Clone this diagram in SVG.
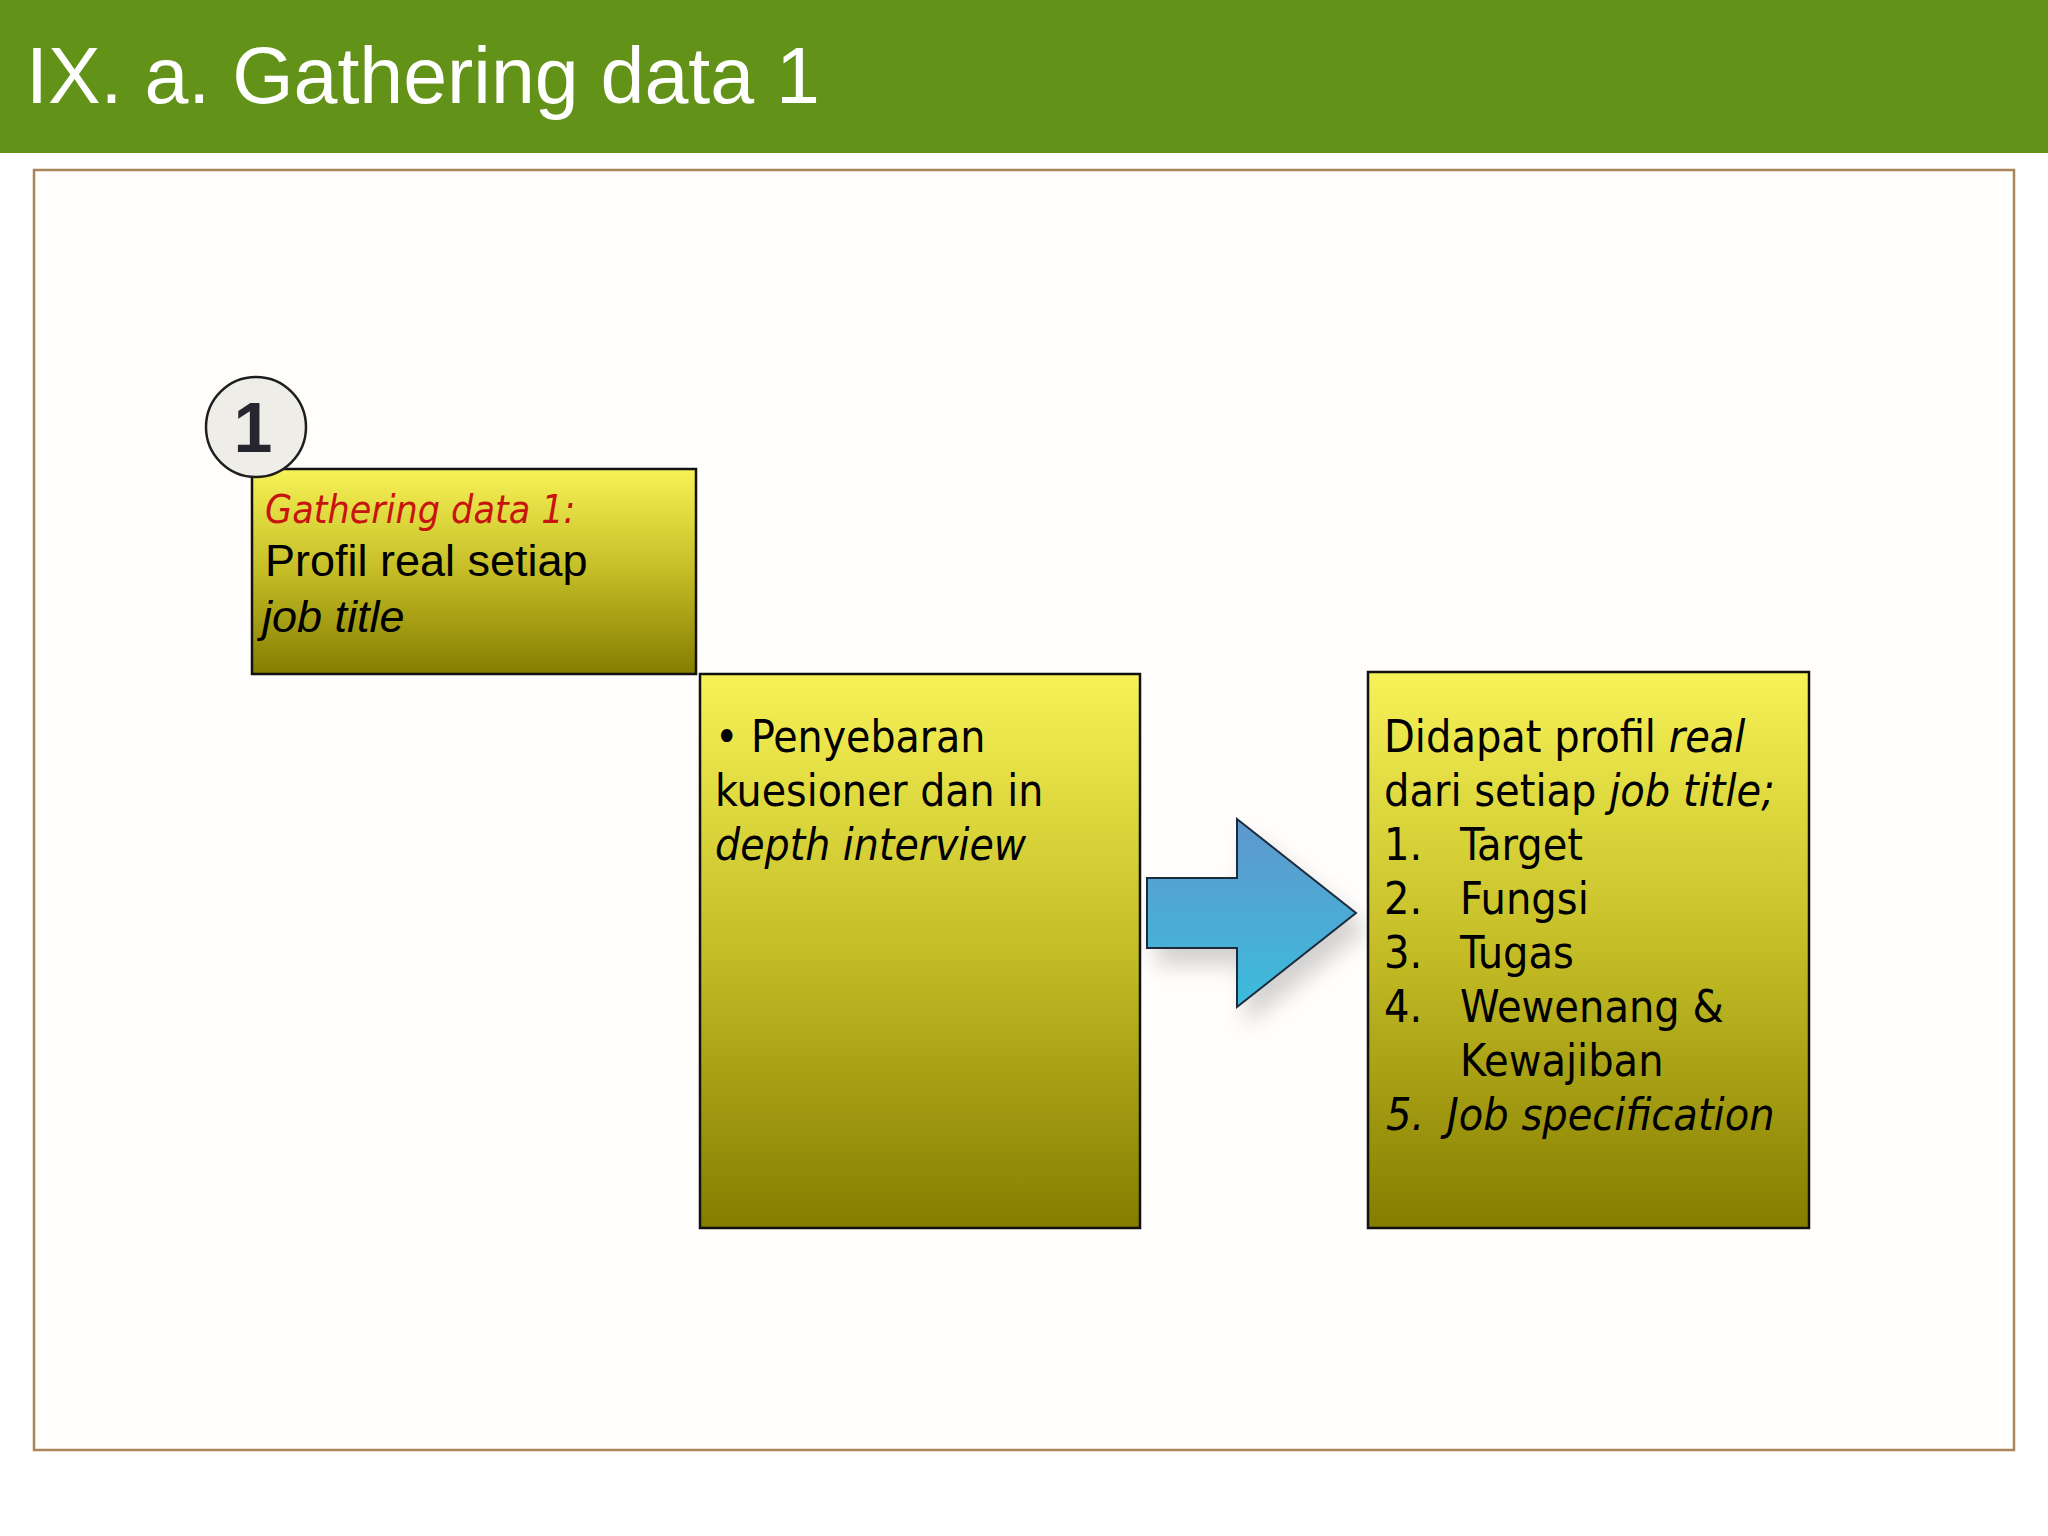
<svg xmlns="http://www.w3.org/2000/svg" width="2048" height="1536" viewBox="0 0 2048 1536">
<defs>
<linearGradient id="yel" x1="0" y1="0" x2="0" y2="1">
<stop offset="0" stop-color="#f7f257"/>
<stop offset="0.5" stop-color="#c4bd26"/>
<stop offset="1" stop-color="#857d00"/>
</linearGradient>
<linearGradient id="blu" x1="0" y1="0" x2="0" y2="1">
<stop offset="0" stop-color="#5f97cc"/>
<stop offset="1" stop-color="#3cbcdc"/>
</linearGradient>
<filter id="sh" x="-30%" y="-30%" width="160%" height="160%">
<feGaussianBlur in="SourceAlpha" stdDeviation="11"/>
<feOffset dx="10" dy="16" result="b"/>
<feComponentTransfer><feFuncA type="linear" slope="0.18"/></feComponentTransfer>
<feMerge><feMergeNode/><feMergeNode in="SourceGraphic"/></feMerge>
</filter>
<style>
.box{fill:url(#yel);stroke:#111;stroke-width:2.5}
.tah{font-family:"DejaVu Sans Condensed","DejaVu Sans",sans-serif;font-stretch:condensed;fill:#000}
.ari{font-family:"Liberation Sans",Arial,sans-serif;fill:#000}
</style>
</defs>
<rect width="2048" height="1536" fill="#ffffff"/>
<rect x="0" y="0" width="2048" height="153" fill="#629217"/>
<text x="26" y="103" font-family="Liberation Sans, Arial, sans-serif" font-size="80" fill="#ffffff" textLength="794" lengthAdjust="spacingAndGlyphs">IX. a. Gathering data 1</text>
<rect x="34" y="170" width="1980" height="1280" fill="#fffefc" stroke="#a9865a" stroke-width="2.5"/>

<g id="connectors">
<path d="M1147 878 H1237 V819 L1356 913 L1237 1007 V948 H1147 Z" fill="url(#blu)" stroke="#1a2a3a" stroke-width="2" filter="url(#sh)"/>
</g>

<g id="node-step1">
<rect class="box" x="252" y="469" width="444" height="205"/>
<text class="tah" x="265" y="523" font-size="39" font-style="italic" style="fill:#c8140e">Gathering data 1:</text>
<text class="ari" x="265" y="576" font-size="45">Profil real setiap</text>
<text class="ari" x="262" y="632" font-size="45" font-style="italic">job title</text>
</g>

<g id="node-badge">
<circle cx="256" cy="427" r="50" fill="#efede7" stroke="#1e1e1e" stroke-width="2.5"/>
<text x="253" y="452" font-family="Liberation Sans, Arial, sans-serif" font-weight="bold" font-size="70" fill="#262630" text-anchor="middle">1</text>
</g>

<g id="node-method">
<rect class="box" x="700" y="674" width="440" height="554"/>
<text class="tah" font-size="44"><tspan x="715" y="752">• Penyebaran</tspan><tspan x="715" y="806">kuesioner dan in</tspan><tspan x="715" y="860" font-style="italic">depth interview</tspan></text>
</g>

<g id="node-result">
<rect class="box" x="1368" y="672" width="441" height="556"/>
<text class="tah" font-size="44.5">
<tspan x="1384" y="752">Didapat profil <tspan font-style="italic">real</tspan></tspan>
<tspan x="1384" y="806">dari setiap <tspan font-style="italic">job title;</tspan></tspan>
<tspan x="1384" y="860">1.</tspan><tspan x="1460" y="860">Target</tspan>
<tspan x="1384" y="914">2.</tspan><tspan x="1460" y="914">Fungsi</tspan>
<tspan x="1384" y="968">3.</tspan><tspan x="1460" y="968">Tugas</tspan>
<tspan x="1384" y="1022">4.</tspan><tspan x="1460" y="1022">Wewenang &amp;</tspan>
<tspan x="1460" y="1076">Kewajiban</tspan>
<tspan x="1386" y="1130" font-style="italic">5.</tspan><tspan x="1447" y="1130" font-style="italic">Job specification</tspan>
</text>
</g>
</svg>
